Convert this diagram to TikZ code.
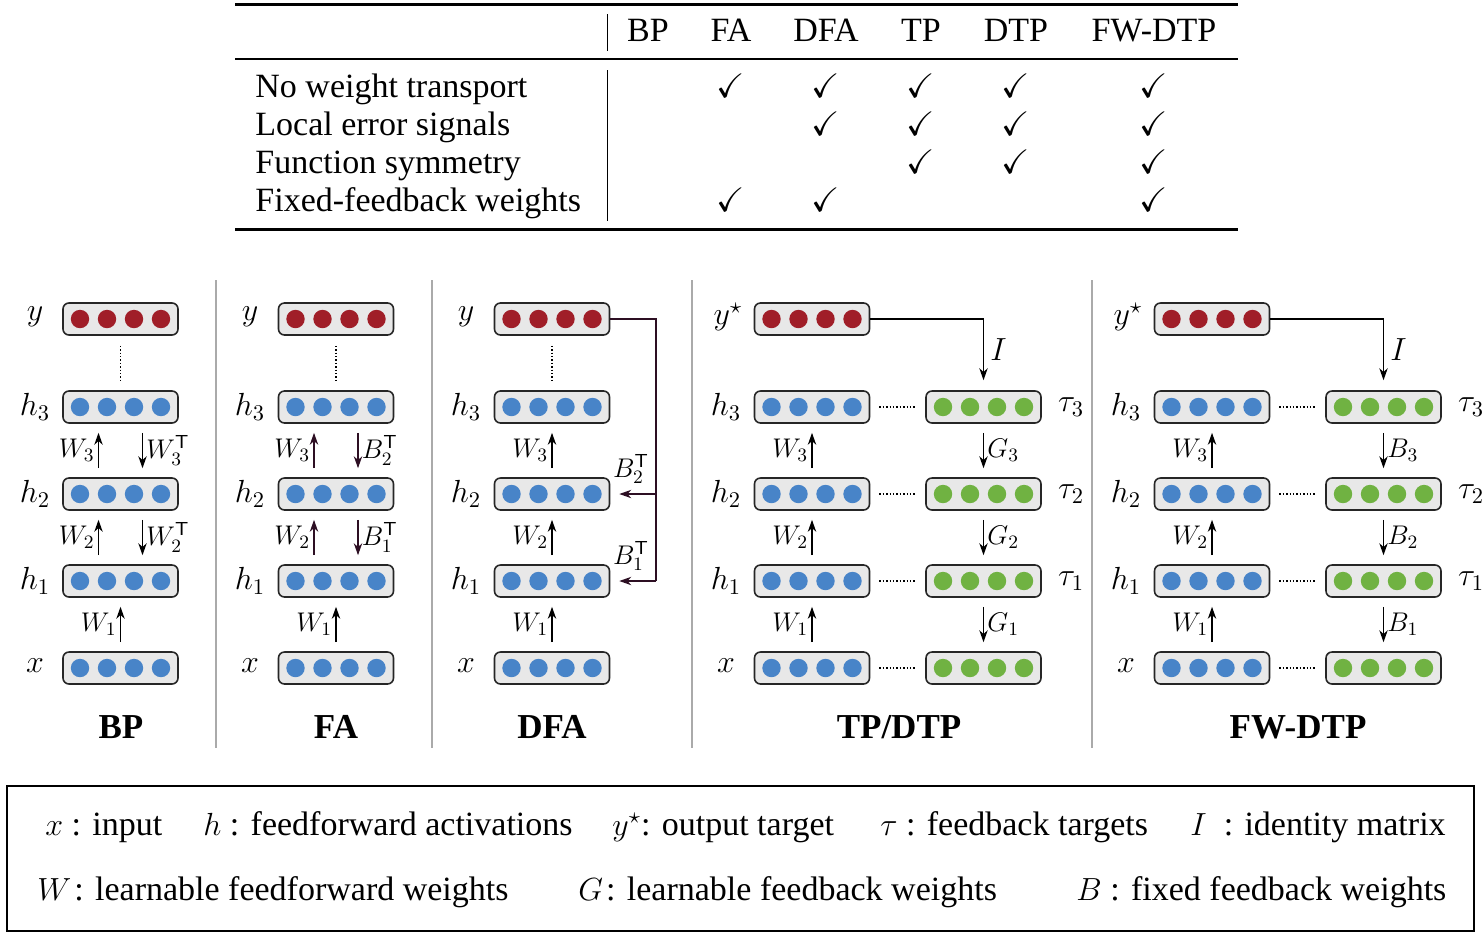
\RequirePackage{fix-cm}
\documentclass[tikz,border=0pt]{standalone}
\usepackage{amsmath,amssymb}
\usepackage{fontspec}
\setmainfont{Liberation Serif}
\usetikzlibrary{arrows.meta,calc}
\definecolor{nred}{RGB}{160,30,40}
\definecolor{nblue}{RGB}{72,132,200}
\definecolor{ngreen}{RGB}{112,178,66}
\definecolor{boxgray}{RGB}{232,232,232}
\definecolor{fbline}{RGB}{45,15,35}
\definecolor{sepgray}{RGB}{170,170,170}
\newcommand\mv[1]{{\fontsize{16}{18}\selectfont$#1$}}
\newcommand\lv[1]{{\fontsize{13.5}{16}\selectfont$#1$}}
\newcommand\layerat[4]{%
  \node[layer] (#1) at (#2,#3) {};
  \foreach \k in {-1.5,-0.5,0.5,1.5}{\fill[#4] ($(#1.center)+(\k*27,0)$) circle[radius=4.6pt];}
}
\tikzset{
  layer/.style={draw=black!85, fill=boxgray, line width=0.8pt, rounded corners=3pt,
    minimum width=57.5pt, minimum height=16pt, inner sep=0pt},
  lab/.style={inner sep=0pt},
  al/.style={inner sep=1.6pt},
  ff/.style={line width=0.7pt, -{Stealth[length=6pt,width=4.2pt]}},
  fb/.style={ff, draw=fbline},
  dots/.style={densely dotted, line width=0.7pt},
  sep/.style={draw=sepgray, line width=1pt},
  ttl/.style={font=\fontsize{17.5}{20}\selectfont\bfseries},
  tbl/.style={anchor=base, inner sep=0pt},
  tbll/.style={anchor=base west, inner sep=0pt},
  leg/.style={anchor=base west, inner sep=0pt},
}
\begin{document}
\begin{tikzpicture}[x=0.5pt,y=-0.5pt,font=\fontsize{17}{20}\selectfont]
\useasboundingbox (0,0) rectangle (1482,939);

% ---------------- table ----------------
\draw[line width=1.5pt] (235,4) -- (1238,4);
\draw[line width=1pt] (235,59) -- (1238,59);
\draw[line width=1.5pt] (235,229) -- (1238,229);
\draw[line width=0.5pt] (607,14) -- (607,51);
\draw[line width=0.5pt] (607,70) -- (607,221);
\node[tbl] (hbp) at (648,41) {BP};
\node[tbl] (hfa) at (731,41) {FA};
\node[tbl] (hdfa) at (826,41) {DFA};
\node[tbl] (htp) at (921,41) {TP};
\node[tbl] (hdtp) at (1016,41) {DTP};
\node[tbl] (hfw) at (1154,41) {FW-DTP};
\node[tbll] (r1) at (255,97) {No weight transport};
\node[tbll] (r2) at (255,135) {Local error signals};
\node[tbll] (r3) at (255,173) {Function symmetry};
\node[tbll] (r4) at (255,211) {Fixed-feedback weights};
\foreach \cx in {731,826,921,1016,1154} \node[tbl] at (\cx,97) {$\checkmark$};
\foreach \cx in {826,921,1016,1154} \node[tbl] at (\cx,135) {$\checkmark$};
\foreach \cx in {921,1016,1154} \node[tbl] at (\cx,173) {$\checkmark$};
\foreach \cx in {731,826,1154} \node[tbl] at (\cx,211) {$\checkmark$};

% ---------------- separators ----------------
\draw[sep] (216,280) -- (216,748);
\draw[sep] (432,280) -- (432,748);
\draw[sep] (692,280) -- (692,748);
\draw[sep] (1092,280) -- (1092,748);

% ---------------- BP ----------------
\layerat{bpy}{120.5}{319}{nred}
\layerat{bph3}{120.5}{407}{nblue}
\layerat{bph2}{120.5}{494}{nblue}
\layerat{bph1}{120.5}{581}{nblue}
\layerat{bpx}{120.5}{668}{nblue}
\node[lab] (bply) at (35,317) {\mv{y}};
\node[lab] (bplh3) at (35,407) {\mv{h_3}};
\node[lab] (bplh2) at (35,494) {\mv{h_2}};
\node[lab] (bplh1) at (35,581) {\mv{h_1}};
\node[lab] (bplx) at (35,666) {\mv{x}};
\draw[dots] ([yshift=-5pt]bpy.south) -- ([yshift=5pt]bph3.north);
\draw[ff] ([xshift=-11pt,yshift=4.5pt]bph2.north) -- ([xshift=-11pt,yshift=-4.5pt]bph3.south) node[midway,left,al] {\lv{W_3}};
\draw[ff] ([xshift=11pt,yshift=-4.5pt]bph3.south) -- ([xshift=11pt,yshift=4.5pt]bph2.north) node[midway,right,al] {\lv{W_3^{\mathsf{T}}}};
\draw[ff] ([xshift=-11pt,yshift=4.5pt]bph1.north) -- ([xshift=-11pt,yshift=-4.5pt]bph2.south) node[midway,left,al] {\lv{W_2}};
\draw[ff] ([xshift=11pt,yshift=-4.5pt]bph2.south) -- ([xshift=11pt,yshift=4.5pt]bph1.north) node[midway,right,al] {\lv{W_2^{\mathsf{T}}}};
\draw[ff] ([yshift=4.5pt]bpx.north) -- ([yshift=-4.5pt]bph1.south) node[midway,left,al] {\lv{W_1}};
\node[ttl] (tbp) at (121,727) {BP};

% ---------------- FA ----------------
\layerat{fay}{336}{319}{nred}
\layerat{fah3}{336}{407}{nblue}
\layerat{fah2}{336}{494}{nblue}
\layerat{fah1}{336}{581}{nblue}
\layerat{fax}{336}{668}{nblue}
\node[lab] (faly) at (250,317) {\mv{y}};
\node[lab] (falh3) at (250,407) {\mv{h_3}};
\node[lab] (falh2) at (250,494) {\mv{h_2}};
\node[lab] (falh1) at (250,581) {\mv{h_1}};
\node[lab] (falx) at (250,666) {\mv{x}};
\draw[dots] ([yshift=-5pt]fay.south) -- ([yshift=5pt]fah3.north);
\draw[fb] ([xshift=-11pt,yshift=4.5pt]fah2.north) -- ([xshift=-11pt,yshift=-4.5pt]fah3.south) node[midway,left,al] {\lv{W_3}};
\draw[fb] ([xshift=11pt,yshift=-4.5pt]fah3.south) -- ([xshift=11pt,yshift=4.5pt]fah2.north) node[midway,right,al] {\lv{B_2^{\mathsf{T}}}};
\draw[fb] ([xshift=-11pt,yshift=4.5pt]fah1.north) -- ([xshift=-11pt,yshift=-4.5pt]fah2.south) node[midway,left,al] {\lv{W_2}};
\draw[fb] ([xshift=11pt,yshift=-4.5pt]fah2.south) -- ([xshift=11pt,yshift=4.5pt]fah1.north) node[midway,right,al] {\lv{B_1^{\mathsf{T}}}};
\draw[ff] ([yshift=4.5pt]fax.north) -- ([yshift=-4.5pt]fah1.south) node[midway,left,al] {\lv{W_1}};
\node[ttl] (tfa) at (336,727) {FA};

% ---------------- DFA ----------------
\layerat{dfay}{552}{319}{nred}
\layerat{dfah3}{552}{407}{nblue}
\layerat{dfah2}{552}{494}{nblue}
\layerat{dfah1}{552}{581}{nblue}
\layerat{dfax}{552}{668}{nblue}
\node[lab] (dfaly) at (466,317) {\mv{y}};
\node[lab] (dfalh3) at (466,407) {\mv{h_3}};
\node[lab] (dfalh2) at (466,494) {\mv{h_2}};
\node[lab] (dfalh1) at (466,581) {\mv{h_1}};
\node[lab] (dfalx) at (466,666) {\mv{x}};
\draw[dots] ([yshift=-5pt]dfay.south) -- ([yshift=5pt]dfah3.north);
\draw[ff] ([yshift=4.5pt]dfah2.north) -- ([yshift=-4.5pt]dfah3.south) node[midway,left,al] {\lv{W_3}};
\draw[ff] ([yshift=4.5pt]dfah1.north) -- ([yshift=-4.5pt]dfah2.south) node[midway,left,al] {\lv{W_2}};
\draw[ff] ([yshift=4.5pt]dfax.north) -- ([yshift=-4.5pt]dfah1.south) node[midway,left,al] {\lv{W_1}};
\coordinate (dfac) at (656,319);
\coordinate (dfam) at (656,494);
\coordinate (dfab) at (656,581);
\draw[line width=0.7pt, fbline] (dfay.east) -- (dfac) -- (dfab);
\draw[fb] (dfam) -- ([xshift=4.5pt]dfah2.east);
\draw[fb] (dfab) -- ([xshift=4.5pt]dfah1.east);
\node[lab] (dfab2) at (631,469) {\lv{B_2^{\mathsf{T}}}};
\node[lab] (dfab1) at (631,556) {\lv{B_1^{\mathsf{T}}}};
\node[ttl] (tdfa) at (552,727) {DFA};

% ---------------- TP/DTP ----------------
\layerat{tpy}{812}{319}{nred}
\layerat{tph3}{812}{407}{nblue}
\layerat{tph2}{812}{494}{nblue}
\layerat{tph1}{812}{581}{nblue}
\layerat{tpx}{812}{668}{nblue}
\layerat{tpt3}{983.5}{407}{ngreen}
\layerat{tpt2}{983.5}{494}{ngreen}
\layerat{tpt1}{983.5}{581}{ngreen}
\layerat{tpt0}{983.5}{668}{ngreen}
\node[lab] (tply) at (728,317) {\mv{y^\star}};
\node[lab] (tplh3) at (726,407) {\mv{h_3}};
\node[lab] (tplh2) at (726,494) {\mv{h_2}};
\node[lab] (tplh1) at (726,581) {\mv{h_1}};
\node[lab] (tplx) at (726,666) {\mv{x}};
\node[lab,anchor=west] (tplt3) at ([xshift=8pt]tpt3.east) {\mv{\tau_3}};
\node[lab,anchor=west] (tplt2) at ([xshift=8pt]tpt2.east) {\mv{\tau_2}};
\node[lab,anchor=west] (tplt1) at ([xshift=8pt]tpt1.east) {\mv{\tau_1}};
\foreach \a/\b in {tph3/tpt3,tph2/tpt2,tph1/tpt1,tpx/tpt0}
  \draw[dots] ([xshift=4.5pt]\a.east) -- ([xshift=-4.5pt]\b.west);
\coordinate (tpc) at (983.5,319);
\draw[ff] (tpy.east) -- (tpc) -- ([yshift=5pt]tpt3.north);
\node[lab,anchor=west] (tpI) at (990,350) {\mv{I}};
\draw[ff] ([yshift=4.5pt]tph2.north) -- ([yshift=-4.5pt]tph3.south) node[midway,left,al] {\lv{W_3}};
\draw[ff] ([yshift=4.5pt]tph1.north) -- ([yshift=-4.5pt]tph2.south) node[midway,left,al] {\lv{W_2}};
\draw[ff] ([yshift=4.5pt]tpx.north) -- ([yshift=-4.5pt]tph1.south) node[midway,left,al] {\lv{W_1}};
\draw[ff] ([yshift=-4.5pt]tpt3.south) -- ([yshift=4.5pt]tpt2.north) node[midway,right,al] {\lv{G_3}};
\draw[ff] ([yshift=-4.5pt]tpt2.south) -- ([yshift=4.5pt]tpt1.north) node[midway,right,al] {\lv{G_2}};
\draw[ff] ([yshift=-4.5pt]tpt1.south) -- ([yshift=4.5pt]tpt0.north) node[midway,right,al] {\lv{G_1}};
\node[ttl] (ttp) at (899,727) {TP/DTP};

% ---------------- FW-DTP ----------------
\layerat{fwy}{1212}{319}{nred}
\layerat{fwh3}{1212}{407}{nblue}
\layerat{fwh2}{1212}{494}{nblue}
\layerat{fwh1}{1212}{581}{nblue}
\layerat{fwx}{1212}{668}{nblue}
\layerat{fwt3}{1383.5}{407}{ngreen}
\layerat{fwt2}{1383.5}{494}{ngreen}
\layerat{fwt1}{1383.5}{581}{ngreen}
\layerat{fwt0}{1383.5}{668}{ngreen}
\node[lab] (fwly) at (1128,317) {\mv{y^\star}};
\node[lab] (fwlh3) at (1126,407) {\mv{h_3}};
\node[lab] (fwlh2) at (1126,494) {\mv{h_2}};
\node[lab] (fwlh1) at (1126,581) {\mv{h_1}};
\node[lab] (fwlx) at (1126,666) {\mv{x}};
\node[lab,anchor=west] (fwlt3) at ([xshift=8pt]fwt3.east) {\mv{\tau_3}};
\node[lab,anchor=west] (fwlt2) at ([xshift=8pt]fwt2.east) {\mv{\tau_2}};
\node[lab,anchor=west] (fwlt1) at ([xshift=8pt]fwt1.east) {\mv{\tau_1}};
\foreach \a/\b in {fwh3/fwt3,fwh2/fwt2,fwh1/fwt1,fwx/fwt0}
  \draw[dots] ([xshift=4.5pt]\a.east) -- ([xshift=-4.5pt]\b.west);
\coordinate (fwc) at (1383.5,319);
\draw[ff] (fwy.east) -- (fwc) -- ([yshift=5pt]fwt3.north);
\node[lab,anchor=west] (fwI) at (1390,350) {\mv{I}};
\draw[ff] ([yshift=4.5pt]fwh2.north) -- ([yshift=-4.5pt]fwh3.south) node[midway,left,al] {\lv{W_3}};
\draw[ff] ([yshift=4.5pt]fwh1.north) -- ([yshift=-4.5pt]fwh2.south) node[midway,left,al] {\lv{W_2}};
\draw[ff] ([yshift=4.5pt]fwx.north) -- ([yshift=-4.5pt]fwh1.south) node[midway,left,al] {\lv{W_1}};
\draw[ff] ([yshift=-4.5pt]fwt3.south) -- ([yshift=4.5pt]fwt2.north) node[midway,right,al] {\lv{B_3}};
\draw[ff] ([yshift=-4.5pt]fwt2.south) -- ([yshift=4.5pt]fwt1.north) node[midway,right,al] {\lv{B_2}};
\draw[ff] ([yshift=-4.5pt]fwt1.south) -- ([yshift=4.5pt]fwt0.north) node[midway,right,al] {\lv{B_1}};
\node[ttl] (tfw) at (1298,727) {FW-DTP};

% ---------------- legend ----------------
\draw[line width=1pt] (7,786) rectangle (1474,931);
\node[leg] (lx) at (45,835) {\mv{x} : input};
\node[leg] (lh) at (203,835) {\mv{h} : feedforward activations};
\node[leg] (ly) at (612,835) {\mv{y^\star}: output target};
\node[leg] (lt) at (880,835) {\mv{\tau} : feedback targets};
\node[leg] (li) at (1190,835) {\mv{I}\ \ : identity matrix};
\node[leg] (lw) at (37,900) {\mv{W}\kern1.5pt: learnable feedforward weights};
\node[leg] (lg) at (578,900) {\mv{G}\kern1.5pt: learnable feedback weights};
\node[leg] (lb) at (1076,900) {\mv{B} : fixed feedback weights};
\end{tikzpicture}
\end{document}
